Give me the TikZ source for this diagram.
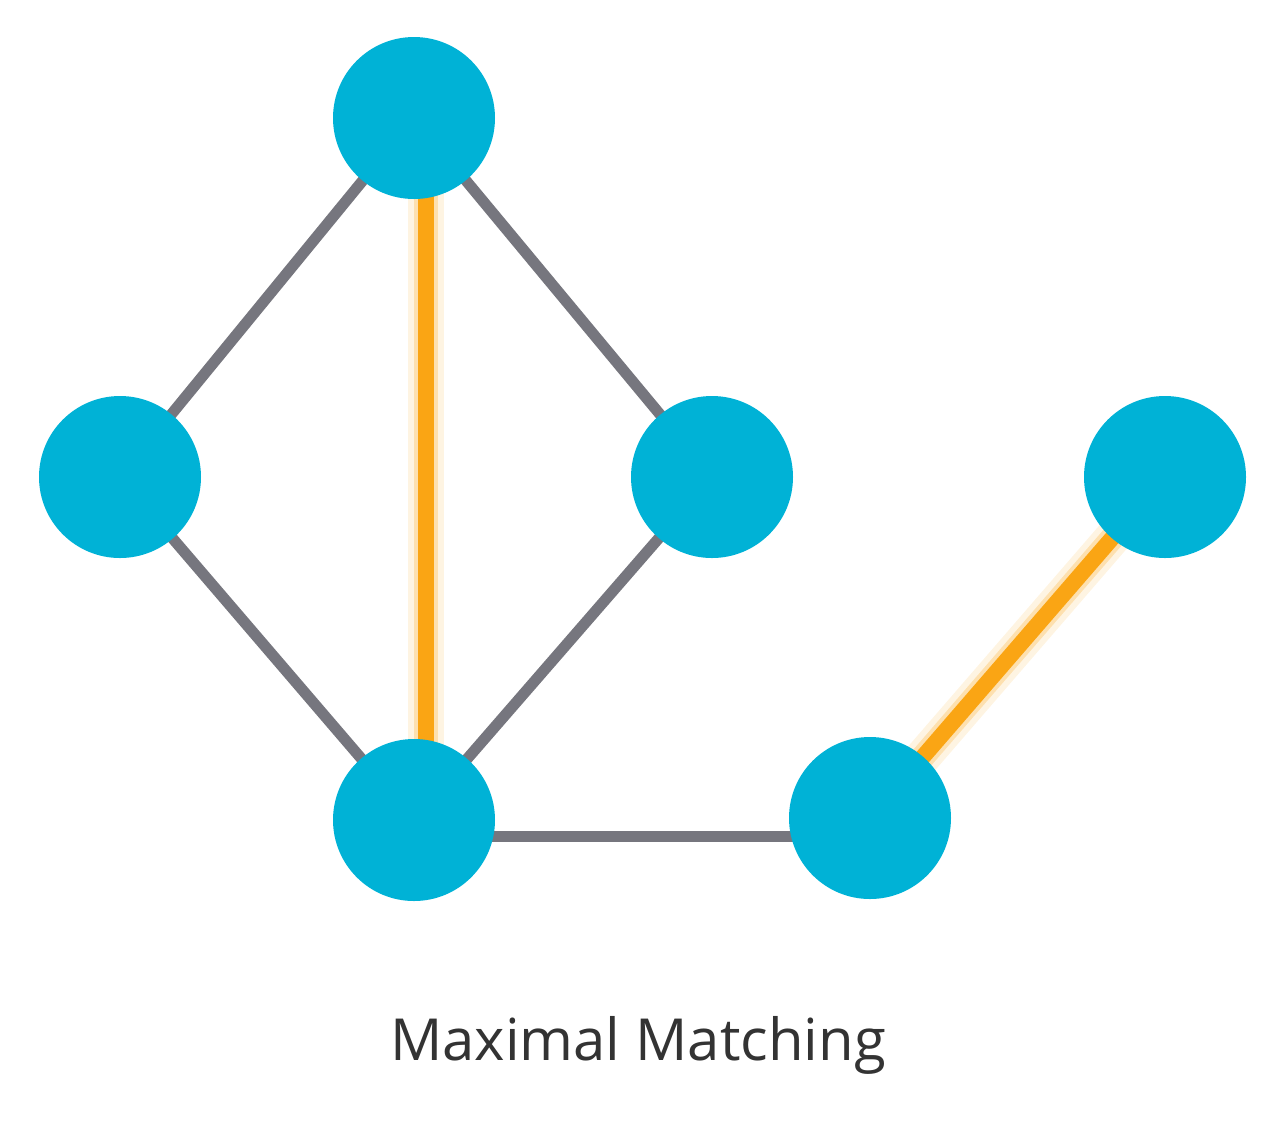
\documentclass[tikz,border=0pt]{standalone}
\usepackage{fontspec}
\setmainfont{Open Sans}
\begin{document}
\begin{tikzpicture}[x=0.5pt,y=-0.5pt,
  vert/.style={circle,fill=nodeblue,minimum size=81pt,inner sep=0pt},
  plain/.style={draw=edgegray,line width=5.5pt},
  glowA/.style={draw=matchorange,opacity=0.12,line width=18pt},
  glowB/.style={draw=matchorange,opacity=0.25,line width=12pt},
  match/.style={draw=matchorange,line width=8pt}]
\definecolor{nodeblue}{RGB}{0,178,214}
\definecolor{edgegray}{RGB}{118,118,126}
\definecolor{matchorange}{RGB}{250,165,20}
\useasboundingbox (0,0) rectangle (1280,1137);
\coordinate (top) at (414,118);
\coordinate (left) at (120,477);
\coordinate (mid) at (712,477);
\coordinate (right) at (1165,477);
\coordinate (bot) at (414,820);
\coordinate (br) at (870,818);
\draw[plain] (top) -- (left);
\draw[plain] (top) -- (mid);
\draw[plain] (left) -- (bot);
\draw[plain] (mid) -- (bot);
\draw[plain] ([yshift=-8]bot) -- ([yshift=-9]br);
\foreach \s in {glowA,glowB,match}{
  \draw[\s] ([xshift=6]top) -- ([xshift=6]bot);
  \draw[\s] (br) -- (right);
}
\node[vert] (ntop) at (top) {};
\node[vert] (nleft) at (left) {};
\node[vert] (nmid) at (mid) {};
\node[vert] (nright) at (right) {};
\node[vert] (nbot) at (bot) {};
\node[vert] (nbr) at (br) {};
\node[font=\fontsize{29}{34}\selectfont, text=black!80] (title) at (638,1045) {Maximal Matching};
\end{tikzpicture}
\end{document}
